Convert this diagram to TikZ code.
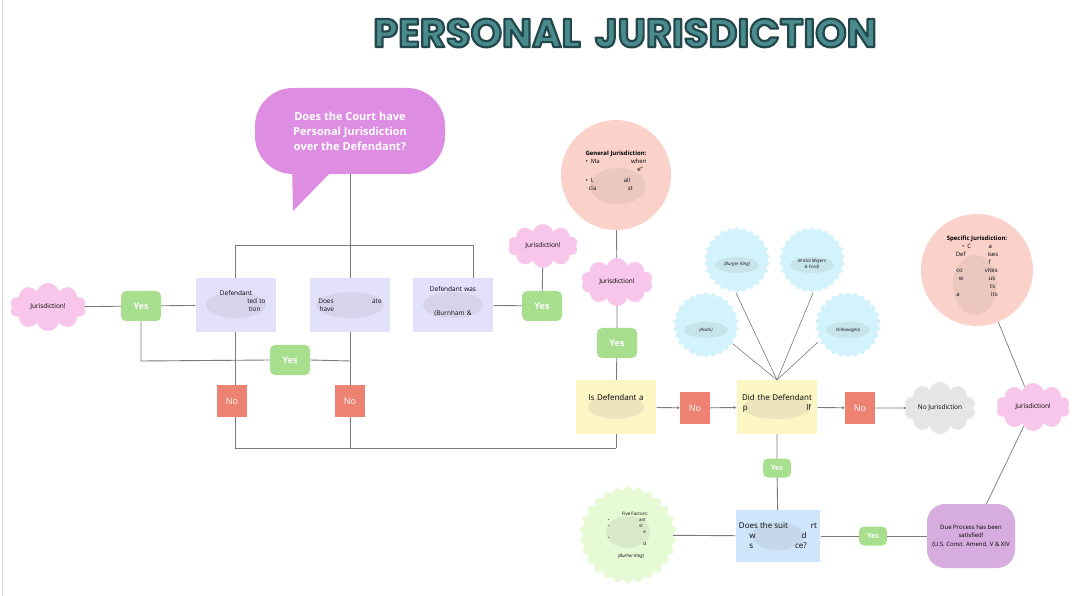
\documentclass[tikz,border=0pt]{standalone}
\usepackage{fontspec}
\setmainfont{Open Sans}
\newfontfamily\titlefont{Poppins}
\usetikzlibrary{shapes.geometric,shapes.symbols,arrows.meta}
\definecolor{lav}{HTML}{E3E0FB}
\definecolor{yesg}{HTML}{A8DF8E}
\definecolor{nor}{HTML}{EE8272}
\definecolor{pinkc}{HTML}{F8C6EA}
\definecolor{yel}{HTML}{FDF5C4}
\definecolor{salmon}{HTML}{FBD2CA}
\definecolor{skyc}{HTML}{D2F3FB}
\definecolor{bluebox}{HTML}{CFE5FB}
\definecolor{mint}{HTML}{E6FAD5}
\definecolor{orchid}{HTML}{DD8EE2}
\definecolor{mauve}{HTML}{D7ADDF}
\definecolor{teal}{HTML}{4A8B8E}
\definecolor{ln}{HTML}{7A7A7A}
\newcommand\el{\mbox{}}
\begin{document}
\begin{tikzpicture}[x=1pt,y=-1pt,
  conn/.style={draw=ln,line width=0.9pt},
  lavbox/.style={fill=lav,minimum width=78pt,minimum height=54pt,font=\fontsize{6.5}{8}\selectfont,align=center,text width=74pt},
  yesbox/.style={fill=yesg,rounded corners=5pt,minimum width=40pt,minimum height=30pt,text=white,font=\bfseries\fontsize{9}{10}\selectfont},
  smallyes/.style={fill=yesg,rounded corners=5pt,minimum width=28pt,minimum height=19pt,text=white,font=\bfseries\fontsize{7}{8}\selectfont},
  nobox/.style={fill=nor,minimum width=30pt,minimum height=32pt,text=white,font=\fontsize{9}{10}\selectfont},
  cloudn/.style={cloud,cloud puffs=10,aspect=1.6,inner sep=0pt,minimum width=76pt,minimum height=48pt,font=\fontsize{6.5}{8}\selectfont},
  yelbox/.style={fill=yel,minimum width=78pt,minimum height=54pt,font=\fontsize{8}{10}\selectfont,align=center,text width=74pt},
  burst/.style={star,star points=26,star point ratio=1.1,fill=skyc,minimum size=66pt,inner sep=0pt,font=\itshape\fontsize{4.5}{5.5}\selectfont,align=center},
  blur/.style={fill=gray,opacity=0.13},
  tip/.style={-{Stealth[length=3pt,width=3pt]}}
]
\useasboundingbox (0,0) rectangle (1080,596);
\fill[white] (0,0) rectangle (1080,596);
\draw[gray!30] (2,0) -- (2,596);
% title with dark outline (fill + stroke text mode)
\node[text=teal] (title) at (625,33) {\special{pdf:literal direct q 2 Tr 2.2 w 1 j 0.14 0.28 0.30 RG}\titlefont\bfseries\fontsize{40}{42}\selectfont PERSONAL\hspace{14pt}JURISDICTION\special{pdf:literal direct Q}};
% speech bubble
\node[fill=orchid,rounded corners=38pt,minimum width=190pt,minimum height=86pt,text=white,font=\bfseries\fontsize{11}{15}\selectfont,align=center] (q) at (350,131) {Does the Court have\\Personal Jurisdiction\\over the Defendant?};
\fill[orchid] (292,165) -- (293,211) -- (335,168) -- cycle;
% lavender boxes
\node[lavbox] (b1) at (236,305) {Defendant\\\phantom{xxxxxxxxxxxx}ted to\\\phantom{xxxxxxxxxxx}tion\\\el};
\node[lavbox] (b2) at (350,305) {Does \phantom{xxxxxxxxxx} ate\\have \phantom{xxxxxxxxxxxxx}};
\node[lavbox] (b3) at (453,305) {Defendant was\\\el\\\el\\(Burnham \&\\\el};
\foreach \c/\w in {b1/30,b2/34,b3/30}{\fill[blur] (\c) ellipse (\w pt and 13pt);}
% clouds left
\node[cloudn,fill=pinkc] (jl) at (48,307) {Jurisdiction!};
\node[yesbox] (y1) at (141,306) {Yes};
\node[yesbox] (y3) at (542,306) {Yes};
\node[cloudn,fill=pinkc,minimum width=70pt,minimum height=44pt] (jr) at (543,246) {Jurisdiction!};
\node[yesbox] (y2) at (290,360) {Yes};
\node[nobox] (n1) at (232,401) {No};
\node[nobox] (n2) at (350,401) {No};
% connectors left
\draw[conn] (q.south) -- (b2.north);
\draw[conn] (235,245) -- (473,245);
\draw[conn] (235,245) -- (235,278);
\draw[conn] (473,245) -- (473,278);
\draw[conn] (jl) -- (y1) -- (b1);
\draw[conn] (b3) -- (y3);
\draw[conn] (y3) -- (jr);
\draw[conn] (y1.south) -- (141,361) -- (y2.west);
\draw[conn] (y2.east) -- (350,361);
\draw[conn] (235,332) -- (235,385);
\draw[conn] (235,417) -- (235,448) -- (616,448);
\draw[conn] (b2.south) -- (n2.north);
\draw[conn] (n2.south) -- (350,448);
% yellow boxes
\node[yelbox] (isd) at (616,407) {Is Defendant a\\\el\\\el};
\node[yelbox] (did) at (777,407) {Did the Defendant\\p\phantom{xxxxxxxxxxxxxx}lf\\\el};
\fill[blur] (isd) ellipse (28pt and 12pt);
\fill[blur] (did) ellipse (34pt and 12pt);
\draw[conn] (616,448) -- (isd.south);
\node[yesbox] (y4) at (617,343) {Yes};
\node[cloudn,fill=pinkc,minimum width=72pt,minimum height=48pt] (jc) at (617,282) {Jurisdiction!};
\node[circle,fill=salmon,minimum size=110pt,font=\fontsize{6}{8}\selectfont,align=left] (gen) at (616,175) {\bfseries General Jurisdiction:\\ \textbullet\ \ Ma \phantom{xxxxxxxxx} when\\ \phantom{xxxxxxxxxxxxxxxx} e"\\[3pt] \textbullet\ \ L\phantom{xxxxxxxxx} all\\ \ \ cla\phantom{xxxxxxxxxx}st\\\el};
\fill[blur] (618,186) ellipse (28pt and 18pt);
\draw[conn] (isd) -- (y4) -- (jc) -- (gen);
\node[nobox] (n3) at (695,408) {No};
\node[nobox] (n4) at (860,408) {No};
\node[cloudn,fill=gray!20,minimum width=72pt,minimum height=50pt] (nj) at (940,408) {No Jurisdiction};
\draw[conn,tip] (isd) -- (n3);
\draw[conn,tip] (n3) -- (did);
\draw[conn,tip] (did) -- (n4);
\draw[conn,tip] (n4) -- (nj);
% bursts
\node[burst] (bk) at (737,260) {\el\\[6pt](Burger King)};
\node[burst] (bm) at (812,260) {\el\\[6pt]Bristol Meyers\\\& Ford)};
\node[burst] (as) at (706,325) {\el\\[8pt](Asahi)};
\node[burst] (vw) at (848,325) {\el\\[8pt]Volkswagen)};
\foreach \c in {bk,bm,as,vw}{\fill[blur] ([yshift=-5pt]\c.center) ellipse (22pt and 8pt);}
\coordinate (apex) at (777,380);
\draw[ln,line width=0.6pt] (apex) -- (736,293);
\draw[ln,line width=0.6pt] (apex) -- (813,293);
\draw[ln,line width=0.6pt] (apex) -- (733,344);
\draw[ln,line width=0.6pt] (apex) -- (818,342);
% specific
\node[circle,fill=salmon,minimum size=112pt,font=\fontsize{6}{8}\selectfont,align=center] (spec) at (977,270) {\bfseries Specific Jurisdiction:\\ \textbullet\ \ C\phantom{xxxxx} a\\ Def\phantom{xxxxxxx}ises\\ \phantom{xxxxxxxx}f\\ co\phantom{xxxxxxx}vites\\ w\phantom{xxxxxxxx}us\\ \phantom{xxxxxxxxxx}ts\\ a\phantom{xxxxxxxxxx}its\\\el};
\fill[blur] (975,285) ellipse (22pt and 30pt);
\node[cloudn,fill=pinkc,minimum width=74pt,minimum height=48pt] (js) at (1033,407) {Jurisdiction!};
\draw[ln,line width=0.7pt] (spec) -- (js);
% bottom
\node[smallyes] (y5) at (777,468) {Yes};
\node[fill=bluebox,minimum width=82pt,minimum height=52pt,font=\fontsize{8}{10}\selectfont,align=center] (suit) at (778,536) {Does the suit \phantom{xxxxx}rt\\w\phantom{xxxxxxxxxxx}d\\s\phantom{xxxxxxxxxx}ce?};
\fill[blur] (suit) ellipse (26pt and 14pt);
\draw[conn] (did) -- (y5) -- (suit);
\node[star,star points=26,star point ratio=1.1,fill=mint,minimum size=98pt,inner sep=0pt,font=\fontsize{4.5}{6}\selectfont,align=left] (five) at (628,535) {\hspace{14pt}Five Factors:\\ \textbullet\ \phantom{xxxxxxxxxxxx}ant\\ \textbullet\ \phantom{xxxxxxxxxxxx}st\\ \ \ \phantom{xxxxxxxxxxxxxx}e\\ \textbullet\ \phantom{xxxxxxxxxxxx}\\ \ \ \phantom{xxxxxxxxxxxxxx}d\\ \hspace{12pt}\phantom{xxxxx}\\ \hspace{10pt}\itshape(Burher King)};
\fill[blur] (628,532) ellipse (22pt and 16pt);
\draw[conn] (suit) -- (five);
\node[smallyes] (y6) at (873,536) {Yes};
\node[fill=mauve,rounded corners=18pt,minimum width=88pt,minimum height=64pt,font=\fontsize{6}{8.5}\selectfont,align=center] (dp) at (971,536) {Due Process has been\\satisfied!\\(U.S. Const. Amend. V \& XIV};
\draw[conn] (suit) -- (y6) -- (dp);
\draw[ln,line width=0.7pt] (js) -- (dp);
\end{tikzpicture}
\end{document}
